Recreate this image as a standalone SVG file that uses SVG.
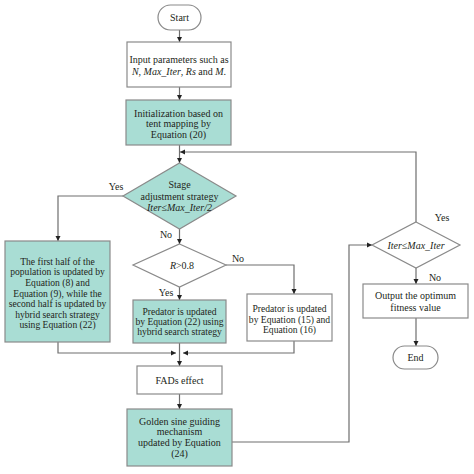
<svg xmlns="http://www.w3.org/2000/svg" width="474" height="474" viewBox="0 0 474 474">
<defs>
<marker id="ah" markerWidth="6" markerHeight="6" refX="5" refY="3" orient="auto" markerUnits="userSpaceOnUse">
<path d="M0,0.5 L5,3 L0,5.5 Z" fill="#222"/>
</marker>
<style>
.t{font-family:"Liberation Serif","Times New Roman",serif;font-size:10px;fill:#231f20;text-anchor:middle}
.s{font-size:9.6px}
.i{font-style:italic}
.w{fill:#fff;stroke:#8a8a8a;stroke-width:1.2}
.g{fill:#a9ddd4;stroke:#8a8a8a;stroke-width:1.2}
.c{fill:none;stroke:#6e6e6e;stroke-width:1.2}
.a{marker-end:url(#ah)}
</style>
</defs>
<rect width="474" height="474" fill="#fff"/>
<g id="connectors">
<line class="c a" x1="179.5" y1="30" x2="179.5" y2="42"/>
<line class="c a" x1="179.5" y1="87" x2="179.5" y2="100"/>
<line class="c a" x1="179.5" y1="145" x2="179.5" y2="163"/>
<polyline class="c a" points="123,196 58,196 58,241"/>
<line class="c a" x1="179.5" y1="229" x2="179.5" y2="244"/>
<polyline class="c a" points="226,265 294,265 294,294"/>
<line class="c a" x1="179.5" y1="287" x2="179.5" y2="300"/>
<polyline class="c a" points="58,342 58,353 176,353"/>
<polyline class="c a" points="294,341 294,353 183,353"/>
<line class="c" x1="179.5" y1="343" x2="179.5" y2="353"/>
<line class="c a" x1="179.5" y1="353" x2="179.5" y2="366"/>
<line class="c a" x1="179.5" y1="394" x2="179.5" y2="409"/>
<polyline class="c a" points="232,442 349,442 349,245 372,245"/>
<polyline class="c a" points="416,222 416,152 180,152"/>
<line class="c a" x1="416" y1="268" x2="416" y2="284"/>
<line class="c a" x1="416" y1="318" x2="416" y2="346"/>
<text class="t" x="116" y="190">Yes</text>
<text class="t" x="166" y="238">No</text>
<text class="t" x="238" y="262">No</text>
<text class="t" x="166" y="296">Yes</text>
<text class="t" x="442" y="221">Yes</text>
<text class="t" x="435" y="281">No</text>
</g>
<g id="start">
<rect class="w" x="158" y="5" width="43" height="25" rx="12.5"/>
<text class="t" x="179.5" y="21">Start</text>
</g>
<g id="input">
<rect class="w" x="127" y="42" width="104" height="45"/>
<text class="t" x="179" y="63">Input parameters such as</text>
<text class="t" x="179" y="75"><tspan class="i">N</tspan>, <tspan class="i">Max_Iter</tspan>, <tspan class="i">Rs</tspan> and <tspan class="i">M</tspan>.</text>
</g>
<g id="init">
<rect class="g" x="126" y="100" width="105" height="45"/>
<text class="t" x="178.5" y="117">Initialization based on</text>
<text class="t" x="178.5" y="127">tent mapping by</text>
<text class="t" x="178.5" y="137.5">Equation (20)</text>
</g>
<g id="stage">
<polygon class="g" points="179.5,163 236,196 179.5,229 123,196"/>
<text class="t" x="179.5" y="188">Stage</text>
<text class="t" x="179.5" y="200">adjustment strategy</text>
<text class="t i" x="179.5" y="211">Iter≤Max_Iter/2</text>
</g>
<g id="left">
<rect class="g" x="5" y="241" width="105" height="101"/>
<text class="t s" x="57.5" y="264.5">The first half of the</text>
<text class="t s" x="57.5" y="275">population is updated by</text>
<text class="t s" x="57.5" y="285.5">Equation (8) and</text>
<text class="t s" x="57.5" y="296.5">Equation (9), while the</text>
<text class="t s" x="57.5" y="307">second half is updated by</text>
<text class="t s" x="57.5" y="317.5">hybrid search strategy</text>
<text class="t s" x="57.5" y="328">using Equation (22)</text>
</g>
<g id="r">
<polygon class="w" points="179.5,244 226,265 179.5,287 133,265"/>
<text class="t" x="182" y="268.5"><tspan class="i">R</tspan>&gt;0.8</text>
</g>
<g id="mid">
<rect class="g" x="133" y="300" width="93" height="43"/>
<text class="t s" x="179.5" y="315">Predator is updated</text>
<text class="t s" x="179.5" y="325">by Equation (22) using</text>
<text class="t s" x="179.5" y="335">hybrid search strategy</text>
</g>
<g id="right">
<rect class="w" x="247" y="294" width="85" height="47"/>
<text class="t s" x="289.5" y="312">Predator is updated</text>
<text class="t s" x="289.5" y="322.5">by Equation (15) and</text>
<text class="t s" x="289.5" y="333">Equation (16)</text>
</g>
<g id="fads">
<rect class="w" x="137" y="366" width="85" height="28"/>
<text class="t" x="179.5" y="383.5">FADs effect</text>
</g>
<g id="golden">
<rect class="g" x="127" y="409" width="105" height="57"/>
<text class="t" x="179.5" y="424.5">Golden sine guiding</text>
<text class="t" x="179.5" y="434.5">mechanism</text>
<text class="t" x="179.5" y="445.5">updated by Equation</text>
<text class="t" x="179.5" y="457">(24)</text>
</g>
<g id="iter">
<polygon class="w" points="416,222 460,245 416,268 372,245"/>
<text class="t i" x="416" y="248.5">Iter≤Max_Iter</text>
</g>
<g id="output">
<rect class="w" x="363" y="284" width="105" height="34"/>
<text class="t" x="415.5" y="299">Output the optimum</text>
<text class="t" x="415.5" y="311">fitness value</text>
</g>
<g id="end">
<rect class="w" x="393" y="346" width="45" height="23" rx="11.5"/>
<text class="t" x="415.5" y="361">End</text>
</g>
</svg>
